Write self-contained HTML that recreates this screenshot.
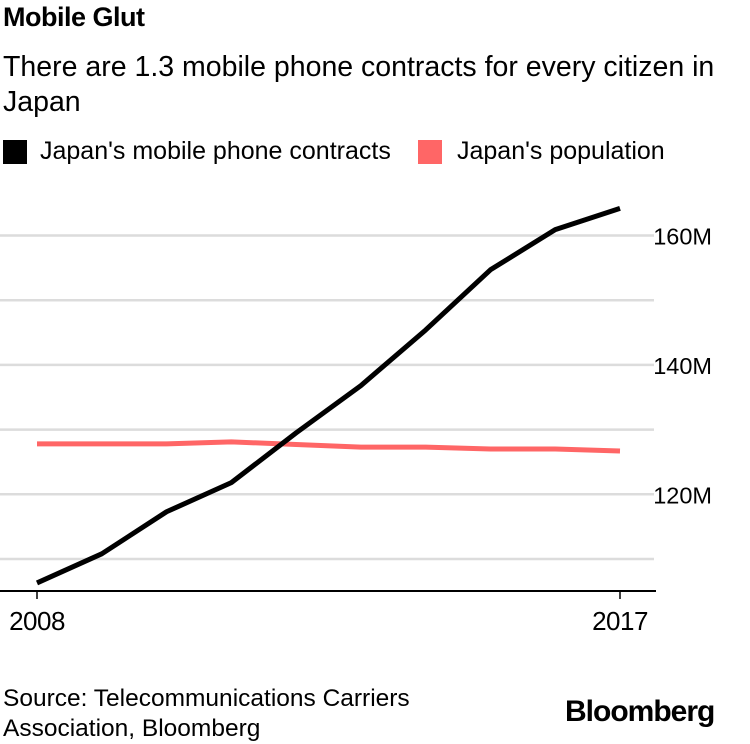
<!DOCTYPE html>
<html><head><meta charset="utf-8"><style>
body{margin:0;background:#fff;font-family:"Liberation Sans",sans-serif;width:750px;height:744px;overflow:hidden;position:relative}
.t{position:absolute;white-space:nowrap;color:#000}
</style></head><body>
<div class="t" style="left:3px;top:2px;font-size:27px;font-weight:bold;letter-spacing:-0.5px">Mobile Glut</div>
<div class="t" style="left:3px;top:50px;font-size:28.5px;line-height:35px;white-space:normal;width:745px">There are 1.3 mobile phone contracts for every citizen in Japan</div>
<div style="position:absolute;left:3px;top:140px;height:24px">
<span style="position:absolute;left:0;top:0;width:24px;height:24px;background:#000"></span>
<span class="t" style="left:37px;top:-3px;font-size:25px">Japan's mobile phone contracts</span></div>
<div style="position:absolute;left:418px;top:140px;height:24px">
<span style="position:absolute;left:0;top:0;width:24px;height:24px;background:#ff6666"></span>
<span class="t" style="left:39px;top:-3px;font-size:25px">Japan's population</span></div>
<svg id="c" width="750" height="744" style="position:absolute;left:0;top:0"></svg>
<div class="t" style="left:3px;top:684px;font-size:24.5px;line-height:30px">Source: Telecommunications Carriers<br>Association, Bloomberg</div>
<div class="t" style="left:565px;top:695px;font-size:30px;font-weight:bold;letter-spacing:-1px">Bloomberg</div>
<script>
const years=[2008,2009,2010,2011,2012,2013,2014,2015,2016,2017];
const contracts=[106.3,110.8,117.3,121.8,129.5,136.8,145.4,154.7,160.9,164.2];
const population=[127.8,127.8,127.8,128.1,127.7,127.3,127.3,127.0,127.0,126.7];
const gridVals=[110,120,130,140,150,160];
const tickLabels=[120,140,160];
const xLabels=[2008,2017];
const ns="http://www.w3.org/2000/svg";
const svg=document.getElementById('c');
const x=v=>37+(v-2008)*(583/9);
const y=v=>559-(v-110)*6.47;
function mk(t,a){const e=document.createElementNS(ns,t);for(const k in a)e.setAttribute(k,a[k]);svg.appendChild(e);return e;}
gridVals.forEach(v=>{
const l=mk('line',{x1:0,x2:654,y1:y(v),y2:y(v),stroke:'#dcdcdc','stroke-width':2.5});


});
tickLabels.forEach(v=>{
const t=mk('text',{x:712,y:y(v)+9,'text-anchor':'end','font-size':23.5,'font-family':'Liberation Sans'});
t.textContent=v+'M';


});
const ax=mk('line',{x1:0,x2:656,y1:591,y2:591,stroke:'#000','stroke-width':2});


xLabels.forEach(v=>{
const tk=mk('line',{x1:x(v),x2:x(v),y1:591,y2:599,stroke:'#000','stroke-width':1.5});


const t=mk('text',{x:x(v),y:630,'text-anchor':'middle','font-size':26,'font-family':'Liberation Sans','letter-spacing':'-0.5'});
t.textContent=v;


});
function line(d,c,n){
const p=mk('polyline',{points:d.map((v,i)=>x(years[i])+','+y(v)).join(' '),fill:'none',stroke:c,'stroke-width':5,'stroke-linejoin':'round'});


}
line(population,'#ff6666','population-line');
line(contracts,'#000','contracts-line');
</script>
</body></html>
